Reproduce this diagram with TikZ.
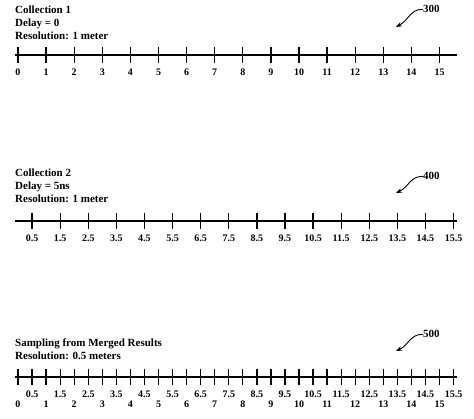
\documentclass[tikz,border=0pt]{standalone}
\usepackage{fontspec}
\setmainfont{Liberation Serif}
\usetikzlibrary{arrows.meta}
\def\unit{28.1}
\tikzset{
  axis/.style={line width=1.1pt},
  tickmark/.style={line width=1.3pt},
  head/.style={font=\bfseries\fontsize{11}{13}\selectfont, anchor=base west, inner sep=0pt},
  num/.style={font=\bfseries\fontsize{10}{12}\selectfont, anchor=base, inner sep=0pt},
  refnum/.style={font=\bfseries\fontsize{11}{13}\selectfont, anchor=base west, inner sep=0pt},
  leader/.style={line width=0.9pt, -{Stealth[length=6pt,width=4.5pt]}}
}
\begin{document}
\begin{tikzpicture}[x=1pt,y=-1pt]
\useasboundingbox (0,0) rectangle (474,419);
% collection 1
\node[head] (c1a) at (15,14) {Collection 1};
\node[head] (c1b) at (15,27) {Delay = 0};
\node[head] (c1c) at (15,39.5) {Resolution: 1 meter};
\draw[axis] (15,55) -- (457,55);
\foreach \i in {0,...,15}{
  \draw[tickmark] (18+\unit*\i,47) -- ++(0,16);
  \node[num] (c1n\i) at (18+\unit*\i,76) {\i};
}
\node[refnum] (r300) at (423,13) {300};
\coordinate (a300) at (396,27);
\draw[leader] (r300.west) .. controls (410,9) and (409,20) .. (a300);
% collection 2
\node[head] (c2a) at (15,177) {Collection 2};
\node[head] (c2b) at (15,190) {Delay = 5ns};
\node[head] (c2c) at (15,203) {Resolution: 1 meter};
\draw[axis] (15,221) -- (457,221);
\foreach \i in {0,...,15}{
  \draw[tickmark] (18+\unit*\i+\unit/2,213) -- ++(0,16);
  \node[num] (c2n\i) at (18+\unit*\i+\unit/2,242) {\i.5};
}
\node[refnum] (r400) at (423,180) {400};
\coordinate (a400) at (396,193);
\draw[leader] (r400.west) .. controls (410,176) and (409,187) .. (a400);
% merged
\node[head] (c3a) at (15,347) {Sampling from Merged Results};
\node[head] (c3b) at (15,360) {Resolution: 0.5 meters};
\draw[axis] (15,377) -- (457,377);
\foreach \i in {0,...,31}
  \draw[tickmark] (18+\unit*\i/2,369) -- ++(0,16);
\foreach \i in {0,...,15}{
  \node[num] (c3h\i) at (18+\unit*\i+\unit/2,397.5) {\i.5};
  \node[num] (c3n\i) at (18+\unit*\i,407.5) {\i};
}
\node[refnum] (r500) at (423,338) {500};
\coordinate (a500) at (396,351);
\draw[leader] (r500.west) .. controls (410,334) and (409,345) .. (a500);
\end{tikzpicture}
\end{document}
